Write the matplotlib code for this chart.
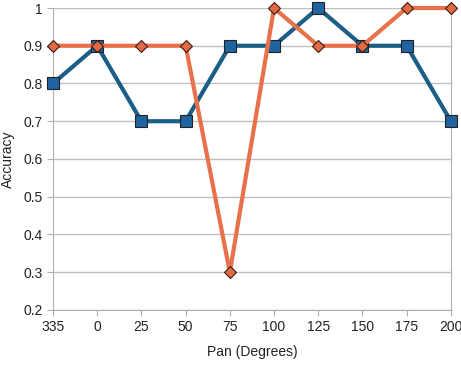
import matplotlib.pyplot as plt

# ── Data ──────────────────────────────────────────────────────────────────────
pan_labels = ["335", "0", "25", "50", "75", "100", "125", "150", "175", "200"]
series_blue = [0.8, 0.9, 0.7, 0.7, 0.9, 0.9, 1.0, 0.9, 0.9, 0.7]
series_orange = [0.9, 0.9, 0.9, 0.9, 0.3, 1.0, 0.9, 0.9, 1.0, 1.0]

plt.rcParams["font.family"] = ["Liberation Sans", "DejaVu Sans"]

fig = plt.figure(figsize=(4.61, 3.65), dpi=100)
ax = fig.add_axes([0.115, 0.151, 0.863, 0.827])

x = list(range(len(pan_labels)))
ax.plot(x, series_blue, color="#1b5e86", linewidth=3, marker="s", markersize=9,
        markerfacecolor="#1f64a0", markeredgecolor="#222222", markeredgewidth=0.8,
        zorder=3, clip_on=False)
ax.plot(x, series_orange, color="#e8704a", linewidth=3, marker="D", markersize=6.5,
        markerfacecolor="#e06a45", markeredgecolor="#3a1a10", markeredgewidth=0.8,
        zorder=4, clip_on=False)

ax.set_xlim(0, len(pan_labels) - 1)
ax.set_ylim(0.2, 1.0)
ax.set_xticks(x)
ax.set_xticklabels(pan_labels)
ax.set_yticks([0.2, 0.3, 0.4, 0.5, 0.6, 0.7, 0.8, 0.9, 1.0])
ax.set_yticklabels(["0.2", "0.3", "0.4", "0.5", "0.6", "0.7", "0.8", "0.9", "1"])

ax.yaxis.grid(True, color="#c0c0c0", linewidth=1)
ax.set_axisbelow(True)
for side in ["left", "right", "bottom"]:
    ax.spines[side].set_color("#b0b0b0")
ax.spines["top"].set_visible(False)
ax.tick_params(axis="both", colors="#b0b0b0", labelcolor="#222222",
               labelsize=10, length=4)

ax.set_xlabel("Pan (Degrees)", fontsize=10, color="#222222", labelpad=8)
ax.set_ylabel("Accuracy", fontsize=10, color="#222222", labelpad=6)

fig.savefig("out.png", dpi=100)
